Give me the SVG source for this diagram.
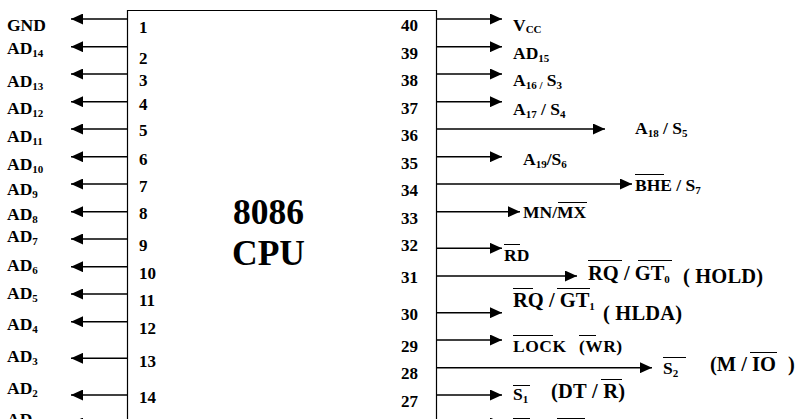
<svg xmlns="http://www.w3.org/2000/svg" width="799" height="419" viewBox="0 0 799 419">
<style>
text{font-family:"Liberation Serif","Times New Roman",serif;font-weight:bold;fill:#000}
.l{font-size:17.500px}
.n{font-size:17px}
.s{font-size:11px}
.b{font-size:20.500px}
.c{stroke:#000;stroke-width:1.500;fill:none}
.o{stroke:#000;stroke-width:1;fill:none}
.t{font-size:35.500px}
</style>
<defs>
<marker id="a" markerUnits="userSpaceOnUse" markerWidth="12" markerHeight="11" refX="12" refY="5.500" orient="auto"><path d="M0 0L12 5.500L0 11Z" fill="#000"/></marker>
</defs>
<g id="chip"><path d="M127.500 419V10.500H436.500V419" fill="none" stroke="#000" stroke-width="1.200"/></g>
<g id="connectors" class="c" marker-end="url(#a)">
<path d="M127 19H71"/><path d="M127 46.700H71"/><path d="M127 74H71"/><path d="M127 101.700H71"/><path d="M127 129H71"/><path d="M127 156.700H71"/><path d="M127 184H71"/><path d="M127 211.700H71"/><path d="M127 239H71"/><path d="M127 266.700H71"/><path d="M127 294H71"/><path d="M127 321.700H71"/><path d="M127 358.300H71"/><path d="M127 395H71"/><path d="M127 423H71"/>
<path d="M436 19H502"/><path d="M436 46.700H502"/><path d="M436 74H502"/><path d="M436 101.700H502"/><path d="M436 129H605"/><path d="M436 156.700H502"/><path d="M436 184H632"/><path d="M436 211.700H520"/><path d="M436 248.300H502"/><path d="M436 276H577"/><path d="M436 312.700H502"/><path d="M436 340H502"/><path d="M436 367.700H652"/><path d="M436 395H502"/><path d="M436 423H502"/>
</g>
<g id="title"><text class="t" x="268.500" y="224" text-anchor="middle">8086</text><text class="t" x="268.500" y="265" text-anchor="middle">CPU</text></g>
<g id="left-labels" class="l">
<text x="7" y="31">GND</text>
<text x="7" y="54">AD<tspan class="s" dy="3">14</tspan></text>
<text x="7" y="87">AD<tspan class="s" dy="3">13</tspan></text>
<text x="7" y="114">AD<tspan class="s" dy="3">12</tspan></text>
<text x="7" y="142">AD<tspan class="s" dy="3">11</tspan></text>
<text x="7" y="170">AD<tspan class="s" dy="3">10</tspan></text>
<text x="7" y="195">AD<tspan class="s" dy="3">9</tspan></text>
<text x="7" y="220">AD<tspan class="s" dy="3">8</tspan></text>
<text x="7" y="242">AD<tspan class="s" dy="3">7</tspan></text>
<text x="7" y="271">AD<tspan class="s" dy="3">6</tspan></text>
<text x="7" y="299">AD<tspan class="s" dy="3">5</tspan></text>
<text x="7" y="330">AD<tspan class="s" dy="3">4</tspan></text>
<text x="7" y="362">AD<tspan class="s" dy="3">3</tspan></text>
<text x="7" y="394">AD<tspan class="s" dy="3">2</tspan></text>
<text x="7" y="425">AD</text>
</g>
<g id="left-pins" class="n">
<text x="139" y="33">1</text><text x="139" y="64">2</text><text x="139" y="86">3</text><text x="139" y="110">4</text><text x="139" y="136">5</text><text x="139" y="165">6</text><text x="139" y="192">7</text><text x="139" y="219">8</text><text x="139" y="251">9</text><text x="139" y="279">10</text><text x="139" y="306">11</text><text x="139" y="334">12</text><text x="139" y="367">13</text><text x="139" y="403">14</text>
</g>
<g id="right-pins" class="n">
<text x="401" y="31">40</text><text x="401" y="59">39</text><text x="401" y="86">38</text><text x="401" y="114">37</text><text x="401" y="141">36</text><text x="401" y="169">35</text><text x="401" y="196">34</text><text x="401" y="224">33</text><text x="401" y="251">32</text><text x="401" y="283">31</text><text x="401" y="320">30</text><text x="401" y="352">29</text><text x="401" y="379">28</text><text x="401" y="407">27</text>
</g>
<g id="right-labels" class="l">
<text x="513" y="31">V<tspan class="s" dy="2">CC</tspan></text>
<text x="513" y="59">AD<tspan class="s" dy="3">15</tspan></text>
<text x="513" y="86">A<tspan class="s" dy="3">16 /</tspan><tspan dy="-3"> S</tspan><tspan class="s" dy="3">3</tspan></text>
<text x="513" y="115">A<tspan class="s" dy="3">17</tspan><tspan dy="-3"> / S</tspan><tspan class="s" dy="3">4</tspan></text>
<text x="635" y="134">A<tspan class="s" dy="3">18</tspan><tspan dy="-3"> / S</tspan><tspan class="s" dy="3">5</tspan></text>
<text x="523" y="165">A<tspan class="s" dy="3">19</tspan><tspan dy="-3">/S</tspan><tspan class="s" dy="3">6</tspan></text>
<text x="635" y="191">BHE / S<tspan class="s" dy="3">7</tspan></text>
<text x="523" y="218">MN/MX</text>
<text x="504" y="261">RD</text>
<text class="b" x="588" y="280">RQ / GT<tspan class="s" dy="3">0</tspan></text>
<text class="b" x="683" y="283" textLength="80">( HOLD)</text>
<text class="b" x="513" y="307">RQ / GT<tspan class="s" dy="3">1</tspan></text>
<text class="b" x="603" y="320" textLength="79">( HLDA)</text>
<text x="513" y="352" textLength="53">LOCK</text><text x="579" y="352" textLength="43">(WR)</text>
<text x="663" y="374">S<tspan class="s" dy="3">2</tspan></text>
<text class="b" x="710" y="371">(M / IO</text><text class="b" x="788" y="371">)</text>
<text x="513" y="400">S<tspan class="s" dy="3">1</tspan></text>
<text class="b" x="551" y="398" textLength="74">(DT / R)</text>
</g>
<g id="overlines" class="o">
<path d="M635 174.500H664M558 202.500H587M504 244.500H520M588 260.500H622M638 260.500H672M513 288.500H533M557 288.500H590M513 335.500H553M579 335.500H596M663 357.500H686M750 352.500H777M513 385.500H530M601 379.500H622M513 418.500H530M557 418.500H585"/>
</g>
</svg>
